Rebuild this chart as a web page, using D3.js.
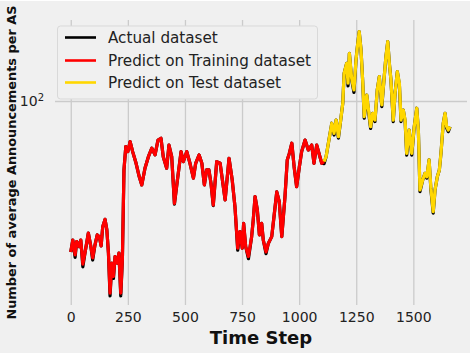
<!DOCTYPE html>
<html>
<head>
<meta charset="utf-8">
<script src="https://cdn.jsdelivr.net/npm/d3@7"></script>
<style>
  html, body { margin: 0; padding: 0; background: #ffffff; }
  svg { display: block; font-family: "DejaVu Sans", sans-serif; }
</style>
</head>
<body>
<svg id="chart" width="474" height="357"></svg>
<script>
// ---------------- data ----------------
const xTickValues = [0, 250, 500, 750, 1000, 1250, 1500];
const yTickValues = [100];
const legendLabels = ["Actual dataset", "Predict on Training dataset", "Predict on Test dataset"];
const seriesColors = ["#000000", "#ff0000", "#ffd700"];

const trainSteps = [0,9,19,26,38,44,53,63,77,88,96,106,116,125,133,140,150,158,165,172,180,187,194,204,211,219,226,233,241,250,260,271,286,300,311,325,340,355,369,382,395,405,420,430,442,454,467,483,493,508,522,537,547,562,574,585,595,605,614,624,639,654,676,693,707,719,731,741,751,757,766,778,792,799,807,817,826,836,843,855,865,880,890,902,913,924,938,948,957,968,978,989,1001,1011,1026,1040,1055,1065,1077,1091,1099,1109];
const trainValues = [31.4,34.4,30.7,34.0,32.7,34.4,28.6,31.4,36.3,32.7,30.0,33.1,35.8,35.3,32.9,38.1,40.3,37.2,31.1,22.9,28.8,26.0,30.3,28.8,31.1,22.9,29.5,58.9,70.4,67.8,73.2,67.8,62.0,55.9,52.5,59.7,65.2,69.6,66.1,74.1,75.1,65.2,59.7,71.3,65.2,45.6,54.5,67.8,62.8,67.8,62.0,55.3,62.0,66.1,62.0,52.5,58.9,58.9,53.2,45.0,62.8,62.0,46.8,64.4,54.5,44.4,32.3,36.7,32.3,39.1,32.7,30.3,35.3,40.1,48.0,43.3,35.8,39.1,34.4,31.4,33.5,35.3,41.2,49.8,46.2,35.3,48.0,63.6,66.9,72.3,60.4,51.8,60.4,67.8,74.1,68.6,71.3,62.0,71.3,65.2,62.0,62.8];

const testSteps = [1109,1118,1128,1143,1153,1162,1172,1182,1191,1197,1208,1214,1220,1230,1240,1249,1255,1263,1271,1278,1285,1296,1303,1313,1322,1332,1342,1351,1362,1372,1380,1388,1395,1402,1412,1420,1430,1439,1446,1456,1464,1471,1482,1493,1504,1515,1522,1529,1541,1551,1559,1569,1577,1587,1595,1605,1614,1621,1631,1639,1646,1653,1661];
const testValues = [62.8,65.2,72.3,84.3,78.0,86.4,76.0,86.4,98.2,123.7,133.5,114.6,144.2,119.0,108.8,137.0,151.7,170.2,147.9,117.5,88.7,104.7,94.6,82.1,91.0,86.4,108.8,120.5,97.0,119.0,140.5,157.7,133.5,117.5,86.4,106.1,125.2,114.6,86.4,93.3,86.4,66.9,80.0,66.9,82.1,94.6,80.0,50.5,54.5,57.4,55.9,63.6,51.2,42.8,50.5,55.9,58.9,66.9,84.3,91.0,82.1,80.0,82.1];

const actualSteps = [0,9,19,26,38,44,53,63,77,88,96,106,116,125,133,140,150,158,165,172,180,187,194,204,211,219,226,233,241,250,260,271,286,300,311,325,340,355,369,382,395,405,420,430,442,454,467,483,493,508,522,537,547,562,574,585,595,605,614,624,639,654,676,693,707,719,731,741,751,757,766,778,792,799,807,817,826,836,843,855,865,880,890,902,913,924,938,948,957,968,978,989,1001,1011,1026,1040,1055,1065,1077,1091,1099,1109,1118,1128,1143,1153,1162,1172,1182,1191,1197,1208,1214,1220,1230,1240,1249,1255,1263,1271,1278,1285,1296,1303,1313,1322,1332,1342,1351,1362,1372,1380,1388,1395,1402,1412,1420,1430,1439,1446,1456,1464,1471,1482,1493,1504,1515,1522,1529,1541,1551,1559,1569,1577,1587,1595,1605,1614,1621,1631,1639,1646,1653,1661];
const actualValues = [31.4,34.4,30.1,34.0,32.7,34.4,28.0,31.4,36.3,32.7,29.5,33.1,35.8,35.3,32.9,38.1,40.3,37.2,31.1,22.4,28.8,25.6,30.3,28.8,31.1,22.4,29.5,58.9,70.4,67.8,73.2,67.8,62.0,55.9,52.5,59.7,65.2,69.6,66.1,74.1,75.1,65.2,59.7,71.3,65.2,45.3,54.5,67.8,62.8,67.8,62.0,55.3,62.0,66.1,62.0,52.5,58.9,58.9,53.2,44.8,62.8,62.0,46.8,64.4,54.5,44.4,31.8,36.7,32.3,39.1,32.7,29.8,35.3,40.1,48.0,43.3,35.8,39.1,34.4,31.0,33.5,35.3,41.2,49.8,46.2,35.3,48.0,63.6,66.9,72.3,60.4,51.8,60.4,67.8,74.1,68.6,71.3,62.0,71.3,65.2,62.0,61.8,65.2,72.3,84.3,77.0,86.4,75.2,86.4,98.2,123.7,133.5,112.3,144.2,117.8,106.8,137.0,151.7,170.2,147.9,117.5,87.6,104.7,93.4,81.0,91.0,85.4,108.8,120.5,95.8,119.0,140.5,157.7,133.5,117.5,85.4,106.1,125.2,113.2,85.4,93.3,85.6,66.0,80.0,66.0,82.1,94.6,80.0,49.9,54.5,57.4,55.3,63.6,50.6,42.3,50.5,55.9,58.9,66.9,84.3,91.0,81.2,79.0,82.1];

// ---------------- layout ----------------
const svg = d3.select("#chart");
const plot = { left: 55, right: 467, top: 20, bottom: 305 };

svg.append("rect").attr("x", 0).attr("y", 1).attr("width", 470).attr("height", 352).attr("fill", "#f0f0f0");

const x = d3.scaleLinear().domain([-69, 1735]).range([plot.left, plot.right]);
const y = d3.scaleLog().domain([20.89, 186.2]).range([plot.bottom, plot.top]);

// x axis with gridlines
const xAxis = svg.append("g")
  .attr("transform", `translate(0,${plot.bottom})`)
  .call(d3.axisBottom(x).tickValues(xTickValues).tickSize(-(plot.bottom - plot.top)).tickPadding(7.5).tickFormat(d3.format("d")));
xAxis.select(".domain").remove();
xAxis.selectAll(".tick line").attr("stroke", "#cbcbcb").attr("stroke-width", 1.3);
xAxis.selectAll(".tick text").attr("fill", "#222").style("font-size", "14px").style("font-family", "DejaVu Sans");

// y axis with gridlines
const yAxis = svg.append("g")
  .attr("transform", `translate(${plot.left},0)`)
  .call(d3.axisLeft(y).tickValues(yTickValues).tickSize(-(plot.right - plot.left)).tickPadding(11).tickFormat(() => ""));
yAxis.select(".domain").remove();
yAxis.selectAll(".tick line").attr("stroke", "#cbcbcb").attr("stroke-width", 1.3);
yAxis.selectAll(".tick text").each(function (d) {
  const t = d3.select(this).attr("fill", "#222").style("font-size", "14px").style("font-family", "DejaVu Sans");
  const exp = Math.round(Math.log10(d));
  t.append("tspan").text("10");
  t.append("tspan").attr("dy", "-0.45em").style("font-size", "10px").text(String(exp));
});

// lines
const line = d3.line().x(d => x(d[0])).y(d => y(d[1]));
const series = [
  { steps: actualSteps, values: actualValues, color: seriesColors[0] },
  { steps: trainSteps, values: trainValues, color: seriesColors[1] },
  { steps: testSteps, values: testValues, color: seriesColors[2] }
];
series.forEach(s => {
  svg.append("path")
    .datum(d3.zip(s.steps, s.values))
    .attr("d", line)
    .attr("fill", "none")
    .attr("stroke", s.color)
    .attr("stroke-width", 3.2)
    .attr("stroke-linejoin", "round")
    .attr("stroke-linecap", "butt");
});

// legend
const lg = svg.append("g");
lg.append("rect").attr("x", 57.5).attr("y", 26).attr("width", 260).attr("height", 73).attr("rx", 3)
  .attr("fill", "#f0f0f0").attr("stroke", "#d9d9d9").attr("stroke-width", 1);
const rowsY = [37.5, 60.5, 82.5];
legendLabels.forEach((lab, i) => {
  lg.append("line").attr("x1", 65).attr("x2", 96).attr("y1", rowsY[i]).attr("y2", rowsY[i])
    .attr("stroke", seriesColors[i]).attr("stroke-width", 2.6);
  lg.append("text").attr("x", 108).attr("y", rowsY[i]).attr("dy", "0.36em")
    .attr("fill", "#222").style("font-size", "15.2px").text(lab);
});

// axis titles
svg.append("text").attr("x", (plot.left + plot.right) / 2).attr("y", 344)
  .attr("text-anchor", "middle").style("font-size", "18px").style("font-weight", "bold").attr("fill", "#111")
  .text("Time Step");
svg.append("text").attr("transform", `translate(15.5,${(plot.top + plot.bottom) / 2}) rotate(-90)`)
  .attr("text-anchor", "middle").style("font-size", "12.9px").style("font-weight", "bold").attr("fill", "#111")
  .text("Number of average Announcements per AS");
</script>
</body>
</html>
